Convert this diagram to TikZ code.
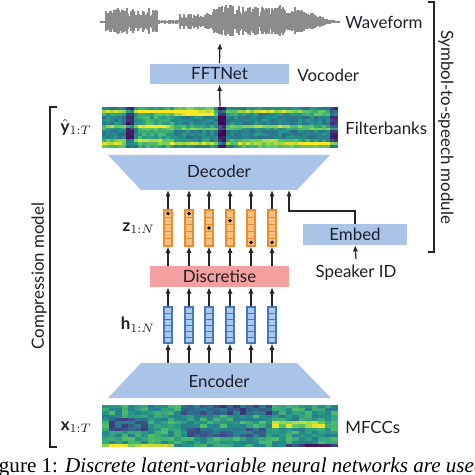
\documentclass[tikz,border=0pt]{standalone}
\usepackage{fontspec}
\setmainfont{Lato}
\newfontfamily\capfont{Liberation Serif}
\usetikzlibrary{arrows.meta}
\definecolor{boxC}{RGB}{170,196,232}
\definecolor{discC}{RGB}{245,160,160}
\definecolor{zFill}{RGB}{250,192,125}
\definecolor{zLine}{RGB}{232,140,50}
\definecolor{hFill}{RGB}{168,202,240}
\definecolor{hLine}{RGB}{70,120,185}
\definecolor{waveC}{RGB}{140,140,140}
\definecolor{txtC}{RGB}{30,30,40}
% viridis anchors
\definecolor{vA}{RGB}{68,1,84}
\definecolor{vB}{RGB}{59,82,139}
\definecolor{vC}{RGB}{33,145,140}
\definecolor{vD}{RGB}{94,201,98}
\definecolor{vE}{RGB}{253,231,37}

% colour 'cell' from a value in [0,1]
\newcommand{\setvir}[1]{%
  \pgfmathsetmacro{\vv}{4*max(0,min(1,#1))}%
  \pgfmathtruncatemacro{\vk}{min(3,floor(\vv))}%
  \pgfmathsetmacro{\vp}{100*(\vv-\vk)}%
  \ifcase\vk \colorlet{cell}{vB!\vp!vA}\or \colorlet{cell}{vC!\vp!vB}\or
  \colorlet{cell}{vD!\vp!vC}\else \colorlet{cell}{vE!\vp!vD}\fi}

\begin{document}
\begin{tikzpicture}[
  x=0.02cm, y=-0.02cm,  % image pixels, y pointing down
  font=\fontsize{9.6}{11}\selectfont, text=txtC,
  blk/.style={fill=boxC, inner sep=0, minimum width=2.78cm, minimum height=0.41cm},
  lab/.style={anchor=west, inner sep=0},
  mlab/.style={anchor=east, inner sep=0},
  zcol/.style={draw=zLine, fill=zFill, line width=0.6pt, inner sep=0, minimum width=0.16cm, minimum height=0.72cm},
  hcol/.style={draw=hLine, fill=hFill, line width=0.6pt, inner sep=0, minimum width=0.16cm, minimum height=0.72cm},
  arr/.style={-{Latex[length=3.6pt,width=3pt]}, line width=0.7pt, black!85},
  brk/.style={line width=0.7pt, black!85},
  wave/.style={waveC, line width=0.6pt}
]
\useasboundingbox (0,0) rectangle (474,475);
\pgfmathsetseed{11}

% ---------- waveform ----------
\foreach \x in {101,102,...,339}{
  \pgfmathsetmacro{\env}{(\x<106)?1.2:((\x<158)?15:((\x<180)?2.5:((\x<213)?9:((\x<288)?17:max(1,17*(339-\x)/51)))))}
  \pgfmathsetmacro{\am}{\env*(0.35+0.65*rnd)}
  \draw[wave] (\x,22-\am) -- (\x,22+0.85*\am);
}
\draw[wave] (100,22) -- (340,22);
\coordinate (wavebot) at (220,43);
\node[lab] (wavel) at (345,22) {Waveform};

% ---------- vocoder ----------
\node[blk] (fft) at (219.5,74) {FFTNet};
\node[lab] (vocl) at (297,75) {Vocoder};

% ---------- filterbanks ----------
\node[minimum width=4.72cm, minimum height=0.82cm, inner sep=0] (fb) at (220,127.5) {};
\foreach \c in {0,...,58}{
  \foreach \r in {0,...,13}{
    \pgfmathsetmacro{\val}{0.45 + 0.1*rand + 0.45*pow(max(0,sin(70*\r + 20*sin(11*\c))),3)
      + ((\c>8 && \c<18)?0.15:0) + (((\r>11) && (\c<8 || \c>33))?0.25:0)
      + ((\r<3 && \c>17 && \c<28)?0.3:0)
      - ((\c>5 && \c<8)?0.35:0) - ((\c>28 && \c<31)?0.45:0) - ((\c>56)?0.3:0)}
    \setvir{\val}
    \fill[cell] (102+4*\c,107+2.93*\r) rectangle ++(4.1,2.98);
  }
}
\node[lab] (fbl) at (345,128) {Filterbanks};
\node[mlab] (yl) at (92,127) {$\hat{\mathbf{y}}_{1:T}$};

% ---------- decoder ----------
\fill[boxC] (108,155) -- (330,155) -- (297,190) -- (141,190) -- cycle;
\node (dec) at (219,171) {Decoder};
\coordinate (decbot) at (219,190);

% ---------- latent codes z ----------
\foreach \i/\xx/\dt in {1/168/1, 2/189/1, 3/209/3, 4/230/2, 5/251/5, 6/272/5}{
  \node[zcol] (z\i) at (\xx,228) {};
  \foreach \k in {1,...,4}
    \draw[zLine, line width=0.5pt] (\xx-4,210+7.2*\k) -- (\xx+4,210+7.2*\k);
  \fill[black] (\xx,210+7.2*\dt-3.6) circle (1.9);
  \draw[arr] (z\i.north) -- (z\i.north |- decbot);
}
\node[mlab] (zl) at (155,228) {$\mathbf{z}_{1:N}$};

% ---------- speaker embedding ----------
\node[blk, minimum width=2.08cm] (emb) at (355,234.5) {Embed};
\node (spk) at (356,273) {Speaker ID};
\coordinate (decemb) at (289,190);
\draw[arr] (spk.north) -- (emb.south);
\draw[arr] (emb.north) -- ++(0,-13) -| (decemb);

% ---------- discretise ----------
\node[blk, fill=discC, minimum height=0.42cm] (disc) at (219.5,276.5) {Discretise};
\foreach \i in {1,...,6}
  \draw[arr] (disc.north -| z\i.south) -- (z\i.south);

% ---------- encoder outputs h ----------
\coordinate (enctop) at (219,363);
\foreach \i/\xx in {1/168, 2/189, 3/209, 4/230, 5/251, 6/272}{
  \node[hcol] (h\i) at (\xx,325) {};
  \foreach \k in {1,...,5}
    \draw[hLine, line width=0.5pt] (\xx-4,307+6*\k) -- (\xx+4,307+6*\k);
  \draw[arr] (h\i.north) -- (h\i.north |- disc.south);
  \draw[arr] (h\i.south |- enctop) -- (h\i.south);
}
\node[mlab] (hl) at (155,325) {$\mathbf{h}_{1:N}$};

% ---------- encoder ----------
\fill[boxC] (141,363) -- (297,363) -- (331,398) -- (108,398) -- cycle;
\node (enc) at (219,381) {Encoder};

% ---------- MFCCs ----------
\node[minimum width=4.72cm, minimum height=0.84cm, inner sep=0] (mf) at (220,426) {};
\foreach \c in {0,...,35}{
  \foreach \r in {0,...,12}{
    \pgfmathsetmacro{\val}{0.55 + 0.15*rand
      + ((\r==12 && \c<11)?0.35:0) - ((\r==12 && \c>27)?0.4:0)
      - ((\r<3 && \c>11 && \c<26)?0.25:0) - ((\r>3 && \r<8 && \c>0 && \c<7)?0.25:0)
      + ((\r>4 && \r<7 && \c>25 && \c<34)?0.3:0) - ((\r>6 && \r<10 && \c>12 && \c<25)?0.2:0)}
    \setvir{\val}
    \fill[cell] (102+6.556*\c,405+3.23*\r) rectangle ++(6.6,3.28);
  }
}
\node[lab] (mfl) at (345,427) {MFCCs};
\node[mlab] (xl) at (92,427) {$\mathbf{x}_{1:T}$};

% ---------- vocoder arrows ----------
\draw[arr] (fb.north) -- (fft.south);
\draw[arr] (fft.north) -- (wavebot);

% ---------- brackets ----------
\draw[brk] (57,107) -- (50,107) -- (50,447) -- (57,447);
\node[rotate=90] (cmp) at (39,276) {Compression model};
\draw[brk] (428,2) -- (434,2) -- (434,252) -- (428,252);
\node[rotate=-90] (s2s) at (446,127) {Symbol-to-speech module};

% ---------- caption (cut by the frame) ----------
\node[anchor=base west, inner sep=0, font=\capfont\fontsize{12}{14}\selectfont, text=black] (cap) at (-19,472)
  {Figure 1: \textit{Discrete latent-variable neural networks are used}};
\end{tikzpicture}
\end{document}
